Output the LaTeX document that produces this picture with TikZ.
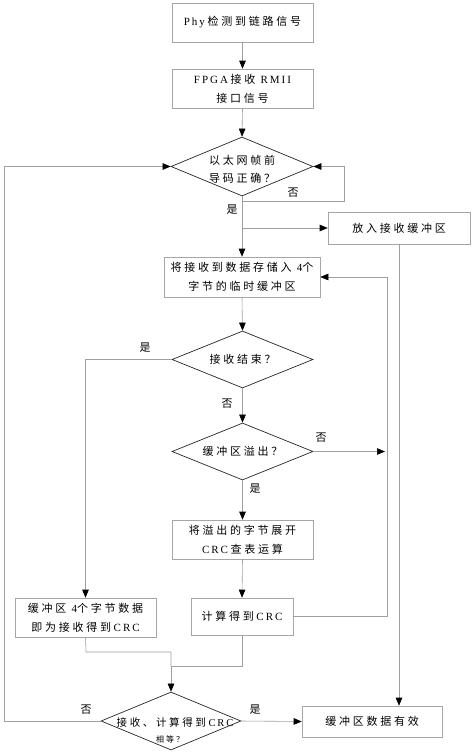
\documentclass[tikz,border=0pt]{standalone}
\usepackage{fontspec}
\setmainfont{Liberation Serif}
\newfontfamily\cjk{Noto Sans CJK SC}[LetterSpace=25]
\newfontfamily\lat{Liberation Serif}[LetterSpace=18]
\newcommand\gp{\hspace{2.7pt}}
\usetikzlibrary{shapes.geometric,arrows.meta}
\begin{document}
\begin{tikzpicture}[x=1pt,y=-1pt,
  box/.style={draw=gray!70, line width=0.6pt, rectangle, inner sep=0pt,
    minimum width=141pt, minimum height=39pt, align=center,
    font=\cjk\fontsize{11}{19}\selectfont},
  dia/.style={draw=black!85, line width=0.7pt, shape=diamond, inner sep=0pt,
    minimum width=141pt, minimum height=57pt},
  txt/.style={inner sep=0pt, align=center, font=\cjk\fontsize{11}{18}\selectfont},
  lbl/.style={inner sep=0pt, font=\cjk\fontsize{11}{13}\selectfont},
  line/.style={draw=gray!75, line width=0.6pt},
  arr/.style={line, -{Triangle[length=8pt,width=6.5pt,color=black]}}]
\useasboundingbox (0,0) rectangle (474,755);
\fill[white] (0,0) rectangle (474,755);

\node[box] (b1) at (242.5,22.5) {{\lat Phy}\gp 检测到链路信号};
\node[box] (b2) at (242.5,88.5) {{\lat FPGA}\gp 接收 {\lat RMII}\\接口信号};
\node[dia, minimum width=142pt, minimum height=59pt] (d1) at (242,166.5) {};
\node[txt] (t1) at (242,169) {以太网帧前\\导码正确？};
\node[box, minimum width=142pt, minimum height=32pt] (buf) at (399,228) {放入接收缓冲区};
\node[box, minimum width=156pt, minimum height=40pt] (b3) at (242,277) {将接收到数据存储入 {\lat 4}个\\字节的临时缓冲区};
\node[dia] (d2) at (242.5,359.5) {};
\node[txt] (t2) at (242.5,359.5) {接收结束？};
\node[dia] (d3) at (242.5,451.5) {};
\node[txt] (t3) at (242.5,451.5) {缓冲区溢出？};
\node[box] (b5) at (242.5,539.5) {将溢出的字节展开\\{\lat CRC}\gp 查表运算};
\node[box, minimum width=102pt, minimum height=37pt] (b6) at (242,616.5) {计算得到\gp{\lat CRC}};
\node[box] (b4) at (85.5,617.5) {缓冲区 {\lat 4}个字节数据\\即为接收得到\gp{\lat CRC}};
\node[dia, minimum width=140pt, minimum height=58pt] (d4) at (171,721) {};
\node[txt, font=\cjk\fontsize{10.5}{12}\selectfont] (t4a) at (175,722) {接收、计算得到\gp{\lat CRC}};
\node[txt, font=\cjk\fontsize{8}{10}\selectfont] (t4b) at (170,739) {相等？};
\node[box, minimum width=140pt, minimum height=31pt] (res) at (372,721.5) {缓冲区数据有效};

\coordinate (c1) at (242,201);
\coordinate (c1r) at (344,201);
\coordinate (c2) at (242,228);
\coordinate (c3) at (385,451.5);
\coordinate (c4) at (387,616.5);
\coordinate (m1) at (86,652);
\coordinate (m2) at (171,666);
\coordinate (c5) at (4,721);

\draw[arr] (b1.south) -- (b2.north);
\draw[arr] (b2.south) -- (d1.north);
\draw[arr] (c1) -- (c1r) |- (d1.east);
\draw[arr] (d1.south) -- (b3.north);
\draw[arr] (c2) -- (buf.west);
\draw[arr] (buf.south) -- (buf.south |- res.north);
\draw[arr] (b3.south) -- (d2.north);
\draw[arr] (d2.west) -| (b4.north);
\draw[arr] (d2.south) -- (d3.north);
\draw[arr] (d3.south) -- (b5.north);
\draw[arr] (d3.east) -- (c3);
\draw[arr] (b5.south) -- (b6.north);
\draw[arr] (b6.east) -- (c4) |- (b3.east);
\draw[line] (b4.south) -- (m1) -| (m2);
\draw[line] (b6.south) |- (m2);
\draw[arr] (m2) -- (d4.north);
\draw[arr] (d4.west) -- (c5) |- (d1.west);
\draw[arr] (d4.east) -- (res.west);

\node[lbl] (l1) at (293,193) {否};
\node[lbl] (l2) at (232,210) {是};
\node[lbl] (l3) at (145,348) {是};
\node[lbl] (l4) at (227,404) {否};
\node[lbl] (l5) at (321,438) {否};
\node[lbl] (l6) at (255,489) {是};
\node[lbl] (l7) at (86,710) {否};
\node[lbl] (l8) at (255,710) {是};
\end{tikzpicture}
\end{document}
